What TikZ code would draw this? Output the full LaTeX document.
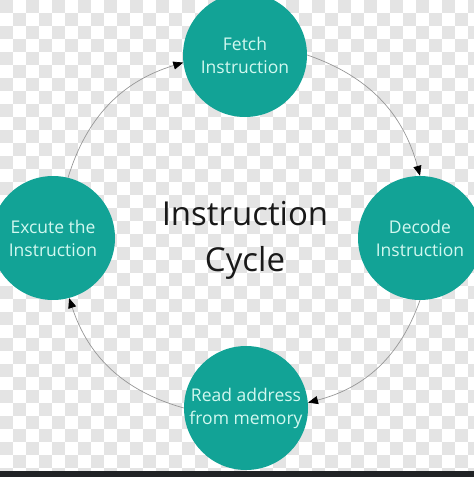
\documentclass[tikz,border=0pt]{standalone}
\usepackage{fontspec}
\setmainfont{Open Sans}
\usetikzlibrary{positioning,arrows.meta}
\definecolor{cycteal}{RGB}{18,163,150}
\definecolor{cyctext}{RGB}{210,248,240}
\definecolor{checkgray}{RGB}{228,228,228}
\definecolor{linegray}{RGB}{150,150,150}
\definecolor{barblack}{RGB}{33,35,38}

\begin{document}
\begin{tikzpicture}[x=1pt,y=-1pt]
    \tikzstyle{stage}=[circle,fill=cycteal,minimum size=124pt,inner sep=0pt,
        text=cyctext,align=center,font=\fontsize{17.5}{23}\selectfont]
    \tikzstyle{flow}=[draw=linegray,line width=0.7pt,bend left=28,
        -{Triangle[length=10pt,width=8pt,color=black]}]
    \tikzstyle{check}=[fill=checkgray,draw=none]

    \useasboundingbox (0,0) rectangle (474,477);
    \clip (0,0) rectangle (474,477);

    %% Background checks
    \foreach \cx in {0,26,...,468}{
        \foreach \cy in {0,26,...,468}{
            \path[check] (\cx,\cy) rectangle (\cx+13,\cy+13);
            \path[check] (\cx+13,\cy+13) rectangle (\cx+26,\cy+26);
        }
    }

    %% Stages of the cycle
    \node[stage] (fetch) at (245,55) {Fetch\\Instruction};
    \node[stage] (decode) at (420,238) {Decode\\Instruction};
    \node[stage] (readmem) at (246,408) {Read address\\from memory};
    \node[stage] (excute) at (53,238) {Excute the\\Instruction};

    % Title in the middle
    \node[align=center,text=black!90,font=\fontsize{33}{46}\selectfont]
        (cycle) at (245,240) {Instruction\\Cycle};

    %% Links round the ring
    \draw[flow] (fetch.east) to (decode.north);
    \draw[flow] (decode.south) to (readmem.5);
    \draw[flow] (readmem.west) to (excute.-75);
    \draw[flow] (excute.76) to (fetch.187);

    \fill[barblack] (0,471) rectangle (474,477);
\end{tikzpicture}
\end{document}
